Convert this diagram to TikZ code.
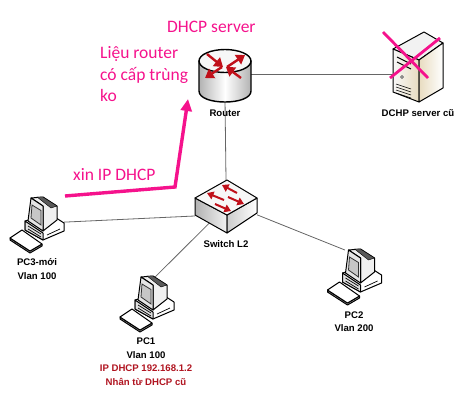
\documentclass[tikz,border=0pt]{standalone}
\usepackage{fontspec}
\setmainfont{Carlito}
\newfontfamily\labelfont{Liberation Sans}
\usetikzlibrary{arrows.meta}
\definecolor{hotpink}{HTML}{F5128C}
\definecolor{darkred}{HTML}{B01420}
\definecolor{arrowred}{HTML}{C0101A}
\definecolor{servercream}{HTML}{E8DCC0}
\tikzset{
  device/.style={inner sep=0pt, outer sep=0pt},
  link/.style={draw=black!60, line width=0.8pt},
  outline/.style={draw=black, line width=1pt, line join=round},
  redarrow/.style={draw=arrowred, line width=2pt, -{Triangle[width=8pt,length=6.5pt]}},
  bigarrow/.style={draw=arrowred, line width=2.4pt, -{Triangle[width=11pt,length=8.5pt]}},
  pinkline/.style={draw=hotpink, line width=2.8pt},
  pinktext/.style={text=hotpink, font=\fontsize{17.5}{20}\selectfont, anchor=west, inner sep=0pt},
  blacktext/.style={font=\labelfont\fontsize{9.6}{13.6}\selectfont\bfseries, align=center, inner sep=0pt},
  pcicon/.pic={
    % keyboard
    \draw[outline, fill=black!30] (0,40) -- (0,42) -- (20,55) -- (32,48) -- (32,46) -- (20,53) -- cycle;
    \draw[outline, fill=white] (0,40) -- (12,32) -- (32,46) -- (20,53) -- cycle;
    % desktop
    \draw[outline, fill=white] (15,23) -- (15,32) -- (33,42) -- (54,33) -- (54,25) -- (40,16) -- cycle;
    \draw[outline, fill=black!12] (15,23) -- (33,35) -- (33,42) -- (15,32) -- cycle;
    \draw[black, line width=0.7pt] (18,28) -- (31,36) (18,31) -- (31,39);
    \draw[black, line width=0.7pt] (37,37) -- (50,31);
    % monitor
    \draw[outline, fill=black!6] (21,0) -- (33,-1) -- (47,8) -- (47,22) -- (33,33) -- (33,8) -- cycle;
    \draw[black, fill=black!65] (27,-1) -- (33,-1) -- (47,8) -- (41,10) -- cycle;
    \draw[outline, fill=black!10] (21,0) -- (33,8) -- (33,33) -- (18,23) -- cycle;
    \draw[black!80, line width=0.8pt, fill=black!22] (22,7) -- (31,12.5) -- (31,27) -- (21,20) -- cycle;
  }
}
\begin{document}
\begin{tikzpicture}[x=1pt,y=-1pt]
  \useasboundingbox (0,0) rectangle (474,405);

  % Device places
  \node[device, minimum width=52pt, minimum height=50pt] (router) at (225,74) {};
  \node[device, minimum width=50pt, minimum height=70pt] (server) at (418,74) {};
  \node[device, minimum width=62pt, minimum height=53pt] (switch) at (226,206.5) {};
  \node[device, minimum width=54pt, minimum height=53pt] (pc3) at (37,224.5) {};
  \node[device, minimum width=54pt, minimum height=53pt] (pc1) at (147,303.5) {};
  \node[device, minimum width=54pt, minimum height=53pt] (pc2) at (354.5,276.5) {};

  % Links
  \draw[link] (router.east) -- (server.west);
  \draw[link] (router.south) -- (switch.north);
  \draw[link] (switch.197) -- (pc3.5);
  \draw[link] (switch.center) -- (pc1.73);
  \draw[link] (switch.345) -- (pc2.110);

  % Router
  \draw[outline, line width=1.4pt, left color=black!30, right color=black!30, middle color=white]
    (199,61) -- (199,91) .. controls (199,98) and (211,102) .. (225,102)
    .. controls (239,102) and (251,98) .. (251,91) -- (251,61) -- cycle;
  \draw[outline, line width=1.4pt, fill=black!3] (225,61) ellipse [x radius=26, y radius=11.5];
  \draw[bigarrow] (207,54) -- (223,67);
  \draw[bigarrow] (227,67) -- (245,55);
  \draw[bigarrow] (222,67) -- (205,78);
  \draw[bigarrow] (241,78) -- (226,67);

  % Switch
  \draw[outline, left color=black!30, right color=black!5] (195,198) -- (195,215) -- (227,233) -- (227,215) -- cycle;
  \draw[outline, left color=black!20, right color=white] (227,215) -- (227,233) -- (257,213) -- (257,198) -- cycle;
  \draw[outline, fill=black!3] (195,198) -- (227,180) -- (257,198) -- (227,215) -- cycle;
  \draw[redarrow] (237,193) -- (222,185);
  \draw[redarrow] (224,200) -- (207,193);
  \draw[redarrow] (228,197) -- (244,204);
  \draw[redarrow] (215,204) -- (231,211);

  % Server
  \draw[outline, fill=black!5] (393,49) -- (424,32) -- (443,43) -- (419,60) -- cycle;
  \draw[outline, left color=black!3, right color=servercream] (393,49) -- (419,60) -- (419,102) -- (393,92) -- cycle;
  \draw[outline, left color=servercream, right color=white] (419,60) -- (443,43) -- (443,88) -- (419,102) -- cycle;
  \draw[black, line width=1pt] (397,57) -- (411,64) (397,62) -- (411,69);
  \draw[black!70, fill=black!20] (402,77) circle [radius=1.5];
  \foreach \ventY in {84,87,90,93}
    \draw[black, line width=0.5pt] (396,\ventY) -- (411,\ventY+5);

  % PCs
  \pic at (pc3.north west) {pcicon};
  \pic at (pc1.north west) {pcicon};
  \pic at (pc2.north west) {pcicon};

  % Cross over the old server
  \coordinate (crossa) at (383,32);
  \coordinate (crossb) at (428,78);
  \coordinate (crossc) at (440,38);
  \coordinate (crossd) at (390,78);
  \draw[pinkline] (crossa) -- (crossb);
  \draw[pinkline] (crossc) -- (crossd);

  % Request arrow
  \coordinate (reqstart) at (65,196);
  \coordinate (reqbend) at (175,187);
  \coordinate (reqend) at (188,99);
  \draw[pinkline, line width=3.4pt, line join=miter, -{Triangle[width=11pt,length=12pt]}] (reqstart) -- (reqbend) -- (reqend);

  % Labels
  \node[pinktext] (dhcplabel) at (167,27) {DHCP server};
  \node[pinktext] (asklabel) at (100,54) {Liệu router};
  \node[pinktext] (asklabelb) at (100,75) {có cấp trùng};
  \node[pinktext] (asklabelc) at (100,95) {ko};
  \node[pinktext] (reqlabel) at (73,175) {xin IP DHCP};
  \node[blacktext] (routerlabel) at (225,113) {Router};
  \node[blacktext] (serverlabel) at (418,113) {DCHP server cũ};
  \node[blacktext] (switchlabel) at (226,244) {Switch L2};
  \node[blacktext] (pcthreelabel) at (37,269) {PC3-mới\\Vlan 100};
  \node[blacktext] (pconelabel) at (146,361.5) {PC1\\Vlan 100\\\textcolor{darkred}{IP DHCP 192.168.1.2}\\\textcolor{darkred}{Nhân từ DHCP cũ}};
  \node[blacktext] (pctwolabel) at (354,321.5) {PC2\\Vlan 200};
\end{tikzpicture}
\end{document}
